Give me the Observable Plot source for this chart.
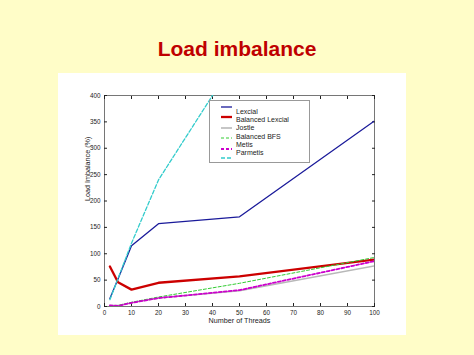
<!DOCTYPE html>
<html>
<head>
<meta charset="utf-8">
<script src="https://cdn.jsdelivr.net/npm/d3@7"></script>
<script src="https://cdn.jsdelivr.net/npm/@observablehq/plot@0.6"></script>
<style>
  html, body { margin: 0; padding: 0; background: #fffdc8; }
  #wrap { position: relative; width: 474px; height: 355px; overflow: hidden; font-family: "Liberation Sans", Arial, sans-serif; }
  #panel { position: absolute; left: 58px; top: 73px; width: 348px; height: 262px; background: #ffffff; }
  #title { position: absolute; left: 0; top: 37px; width: 474px; text-align: center; font: bold 21px "Liberation Sans", Arial, sans-serif; color: #bf0000; }
  #chart { position: absolute; left: 0; top: 0; }
  #legend { position: absolute; left: 209px; top: 100px; width: 101px; height: 63px; background: #fff; border: 1px solid #999; box-sizing: border-box; }
  .lg-row { position: absolute; left: 0; font: 7px "Liberation Sans", Arial, sans-serif; color: #222; white-space: nowrap; }
</style>
</head>
<body>
<div id="wrap">
  <div id="panel"></div>
  <div id="title">Load imbalance</div>
  <div id="chart"></div>
  <div id="legend"></div>
</div>
<script>
const threads = [2, 5, 10, 20, 50, 100];
const seriesNames = ["Lexcial", "Balanced Lexcial", "Jostle", "Balanced BFS", "Metis", "Parmetis"];
const lexcial = [15, 52, 115, 157, 170, 352];
const balancedLexcial = [76, 46, 32, 45, 57, 89];
const jostle = [2, 2, 7, 16, 30, 77];
const balancedBFS = [1, 2, 8, 18, 44, 93];
const metis = [2, 1, 7, 16, 31, 86];
const parmetis = [13, 53, 120, 240, 480, NaN];
const xTicks = [0, 10, 20, 30, 40, 50, 60, 70, 80, 90, 100];
const yTicks = [0, 50, 100, 150, 200, 250, 300, 350, 400];

const colors = ["#1a1a9a", "#cc0000", "#b8b8b8", "#33cc33", "#cc00cc", "#33cccc"];
const widths = [1.3, 2.3, 1.6, 1, 1.8, 1.3];
const dashes = [null, null, null, "3,2", "3,2", "4,2"];

const values = [lexcial, balancedLexcial, jostle, balancedBFS, metis, parmetis];
const data = [];
seriesNames.forEach((name, i) => {
  threads.forEach((t, j) => {
    data.push({series: name, idx: i, threads: t, value: values[i][j]});
  });
});

const lineMarks = seriesNames.map((name, i) =>
  Plot.line(data.filter(d => d.series === name && !isNaN(d.value)), {
    x: "threads", y: "value",
    stroke: colors[i], strokeWidth: widths[i],
    strokeDasharray: dashes[i] || undefined,
    clip: true
  })
);

const chart = Plot.plot({
  width: 474,
  height: 355,
  marginLeft: 104,
  marginRight: 100,
  marginTop: 95,
  marginBottom: 49,
  style: {background: "transparent", fontFamily: "'Liberation Sans', Arial, sans-serif", fontSize: "6.3px", color: "#222"},
  x: {domain: [0, 100]},
  y: {domain: [0, 400]},
  marks: [
    Plot.frame({stroke: "#555", strokeWidth: 0.8}),
    Plot.axisX({ticks: xTicks, tickSize: -3, tickPadding: 7, label: null, anchor: "bottom", fontSize: 6.3}),
    Plot.axisX({ticks: xTicks, tickSize: -3, tickFormat: () => "", label: null, anchor: "top"}),
    Plot.axisY({ticks: yTicks, tickSize: -3, tickPadding: 7, label: null, anchor: "left", fontSize: 6.3}),
    Plot.axisY({ticks: yTicks, tickSize: -3, tickFormat: () => "", label: null, anchor: "right"}),
    ...lineMarks,
    Plot.text(["Number of Threads"], {frameAnchor: "bottom", text: d => d, dy: 16, fontSize: 7.2, fill: "#222"}),
    Plot.text(["Load Imbalance (%)"], {frameAnchor: "left", text: d => d, dx: -17, rotate: -90, fontSize: 7.2, fill: "#222"})
  ]
});
document.getElementById("chart").appendChild(chart);

// legend
const legend = document.getElementById("legend");
const lineY = [6, 16, 27, 37, 48, 57];
const textY = [12, 20, 28, 37, 45, 53];
seriesNames.forEach((name, i) => {
  const svgNS = "http://www.w3.org/2000/svg";
  const s = document.createElementNS(svgNS, "svg");
  s.setAttribute("width", "14"); s.setAttribute("height", "6");
  s.style.position = "absolute"; s.style.left = "10px"; s.style.top = (lineY[i] - 3) + "px";
  const l = document.createElementNS(svgNS, "line");
  l.setAttribute("x1", "1"); l.setAttribute("x2", "12"); l.setAttribute("y1", "3"); l.setAttribute("y2", "3");
  l.setAttribute("stroke", colors[i]); l.setAttribute("stroke-width", widths[i]);
  if (dashes[i]) l.setAttribute("stroke-dasharray", dashes[i]);
  s.appendChild(l);
  legend.appendChild(s);
  const t = document.createElement("div");
  t.className = "lg-row";
  t.textContent = name;
  t.style.left = "26px";
  t.style.top = (textY[i] - 5) + "px";
  legend.appendChild(t);
});
</script>
</body>
</html>
